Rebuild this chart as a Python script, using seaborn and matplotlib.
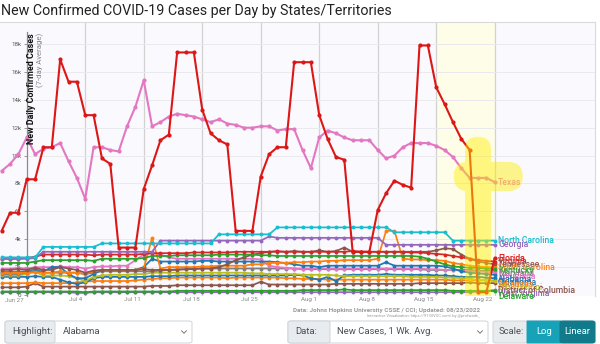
import matplotlib
matplotlib.use("Agg")
import numpy as np
import pandas as pd
import matplotlib.pyplot as plt
import matplotlib.transforms as mtransforms
from matplotlib.patches import FancyBboxPatch, PathPatch
from matplotlib.path import Path
from matplotlib.lines import Line2D
from matplotlib.ticker import FuncFormatter
import seaborn as sns

# ---------------- data (thousands of cases, 7-day average) ----------------
dates = pd.date_range("2022-06-24", "2022-08-22", freq="D")
tick_dates = pd.to_datetime(["2022-06-27", "2022-07-04", "2022-07-11", "2022-07-18",
                             "2022-07-25", "2022-08-01", "2022-08-08", "2022-08-15",
                             "2022-08-22"])
tick_labels = ["Jun 27", "Jul 4", "Jul 11", "Jul 18", "Jul 25", "Aug 1", "Aug 8",
               "Aug 15", "Aug 22"]
y_ticks = [0, 2, 4, 6, 8, 10, 12, 14, 16, 18]

texas = [8.9, 9.4, 10.1, 11.3, 10.1, 10.5, 10.6, 10.9, 9.6, 8.4,
         6.9, 10.6, 10.6, 10.4, 10.3, 12.1, 13.5, 15.4, 12.1, 12.4,
         12.8, 13.0, 12.9, 12.8, 12.6, 12.4, 12.6, 12.3, 12.2, 12.0,
         12.0, 12.1, 12.1, 11.8, 11.9, 11.9, 10.4, 9.1, 11.3, 11.8,
         11.6, 11.3, 11.1, 11.1, 11.1, 10.4, 9.8, 10.0, 10.6, 10.9,
         10.9, 10.9, 10.7, 10.4, 9.9, 9.1, 8.4, 8.4, 8.4, 8.1]
florida = [4.6, 5.9, 5.9, 8.3, 8.3, 10.6, 10.6, 16.9, 15.3, 15.3,
           12.9, 12.9, 9.8, 9.4, 3.4, 3.4, 3.4, 7.6, 9.3, 11.1,
           11.5, 17.4, 17.4, 17.4, 13.3, 11.6, 11.1, 10.8, 4.6, 4.6,
           4.6, 8.5, 10.1, 10.6, 10.6, 16.7, 16.7, 16.7, 12.9, 11.2,
           9.9, 9.7, 3.1, 3.1, 3.1, 6.1, 7.3, 8.2, 7.9, 7.7,
           17.9, 17.9, 14.9, 13.7, 12.4, 11.2, 10.4, 0.2, 0.2, 2.65]
north_carolina = [2.7, 2.7, 2.7, 2.7, 2.7, 3.45, 3.45, 3.45, 3.45, 3.45,
                  3.45, 3.45, 3.7, 3.7, 3.7, 3.7, 3.7, 3.7, 3.7, 3.7,
                  3.7, 3.7, 3.7, 3.7, 3.7, 3.7, 4.35, 4.35, 4.35, 4.35,
                  4.35, 4.35, 4.35, 4.85, 4.85, 4.85, 4.85, 4.85, 4.85, 4.85,
                  4.85, 4.85, 4.85, 4.85, 4.85, 4.85, 4.85, 4.5, 4.5, 4.5,
                  4.5, 4.5, 4.5, 4.5, 3.9, 3.9, 3.9, 3.9, 3.9, 3.9]
georgia = [2.6, 2.6, 2.6, 2.6, 2.65, 3.1, 3.1, 3.1, 3.1, 3.1,
           3.1, 3.1, 3.1, 3.1, 3.1, 3.1, 3.1, 3.1, 3.1, 3.9,
           3.9, 3.9, 3.9, 3.9, 3.9, 3.9, 3.9, 3.9, 3.9, 3.9,
           3.9, 3.9, 4.2, 4.1, 4.1, 4.1, 4.1, 4.1, 4.1, 4.1,
           4.1, 4.1, 4.1, 4.1, 4.1, 4.1, 3.6, 3.6, 3.6, 3.6,
           3.6, 3.6, 3.6, 3.6, 3.6, 3.6, 3.6, 3.6, 3.6, 3.6]
virginia = [2.6, 2.6, 2.6, 2.65, 2.75, 2.9, 2.9, 2.9, 2.9, 2.9,
            2.9, 2.85, 2.9, 2.9, 2.9, 2.9, 2.9, 2.95, 3.0, 3.0,
            3.0, 3.0, 3.0, 3.05, 3.05, 3.05, 3.05, 3.05, 3.1, 3.1,
            3.1, 3.1, 3.1, 3.15, 3.1, 3.1, 3.1, 3.1, 3.1, 3.1,
            3.1, 3.1, 3.15, 3.1, 3.1, 3.1, 3.1, 3.1, 3.1, 3.05,
            3.05, 3.0, 2.95, 2.9, 2.8, 2.7, 2.6, 2.5, 2.45, 2.4]
kentucky = [2.3, 2.3, 2.3, 2.3, 2.4, 2.5, 2.5, 2.5, 2.5, 2.5,
            2.5, 2.45, 2.6, 2.6, 2.6, 2.6, 2.6, 2.65, 2.8, 2.8,
            2.8, 2.85, 2.85, 2.85, 2.85, 2.85, 2.9, 2.9, 2.9, 2.9,
            2.9, 2.85, 2.85, 2.8, 2.8, 2.8, 2.8, 2.8, 2.8, 2.8,
            2.8, 2.8, 2.8, 2.8, 2.8, 2.8, 2.8, 2.8, 2.8, 2.8,
            2.75, 2.6, 2.4, 2.2, 2.05, 2.0, 1.95, 1.95, 1.9, 1.85]
tennessee = [1.8, 1.8, 1.85, 1.8, 1.95, 1.8, 1.8, 2.0, 1.9, 1.8,
             1.6, 1.75, 1.8, 1.8, 1.8, 1.8, 1.8, 1.85, 1.8, 1.8,
             1.8, 1.8, 1.85, 1.85, 1.9, 1.9, 2.0, 2.2, 2.5, 2.7,
             2.9, 3.0, 3.1, 3.1, 3.1, 3.15, 3.1, 3.1, 3.2, 3.1,
             3.15, 3.4, 3.1, 3.1, 3.1, 3.1, 3.1, 3.1, 3.1, 3.1,
             3.1, 3.1, 3.2, 3.35, 3.3, 2.9, 2.6, 2.4, 2.3, 2.2]
south_carolina = [1.6, 1.6, 1.6, 1.6, 1.65, 1.6, 1.6, 1.7, 1.6, 1.6,
                  1.5, 1.7, 1.8, 1.8, 1.8, 1.8, 1.8, 1.9, 4.1, 1.9,
                  2.0, 2.0, 2.0, 2.0, 2.05, 2.05, 2.1, 2.1, 2.1, 2.1,
                  2.2, 2.2, 2.3, 2.3, 2.3, 2.35, 2.35, 2.4, 2.4, 2.45,
                  2.45, 2.5, 2.5, 2.5, 2.5, 2.6, 4.6, 4.6, 2.6, 2.55,
                  2.55, 2.5, 2.5, 2.45, 2.3, 2.2, 2.1, 2.05, 2.0, 2.0]
alabama = [1.65, 1.65, 1.65, 1.7, 1.7, 1.7, 2.0, 2.0, 1.5, 1.2,
           1.2, 1.5, 1.8, 1.8, 1.8, 1.8, 1.8, 2.0, 2.6, 2.4,
           2.4, 2.4, 2.4, 2.4, 2.45, 2.45, 2.4, 2.4, 2.4, 2.4,
           2.4, 2.4, 2.4, 2.35, 2.3, 2.2, 2.1, 2.1, 2.0, 2.1,
           2.1, 2.1, 2.1, 2.1, 2.1, 2.1, 2.35, 2.1, 2.1, 2.1,
           2.1, 2.1, 2.1, 2.05, 1.9, 1.7, 1.6, 1.55, 1.5, 1.45]
louisiana = [1.9, 1.9, 1.95, 1.9, 2.0, 2.0, 2.0, 2.05, 2.0, 2.0,
             1.9, 2.0, 2.05, 2.05, 2.1, 2.1, 2.5, 2.9, 3.0, 2.9,
             2.7, 2.6, 2.6, 2.6, 2.6, 2.6, 2.6, 2.6, 2.6, 2.6,
             2.6, 2.55, 2.1, 2.0, 1.95, 1.9, 1.9, 1.9, 1.9, 1.9,
             1.9, 1.9, 1.9, 1.9, 1.9, 1.9, 1.9, 1.9, 1.9, 1.9,
             1.9, 1.85, 1.85, 1.8, 1.8, 1.75, 1.7, 1.7, 1.65, 1.6]
maryland = [1.5, 1.5, 1.5, 1.6, 1.9, 1.6, 1.6, 1.6, 1.6, 1.6,
            1.5, 1.6, 1.7, 1.7, 1.7, 1.7, 1.7, 1.7, 1.7, 1.75,
            1.8, 1.85, 1.85, 1.9, 1.9, 1.9, 1.9, 1.9, 1.9, 1.9,
            1.9, 1.9, 1.9, 1.9, 1.9, 1.9, 1.85, 1.85, 1.85, 1.85,
            1.85, 1.85, 1.85, 1.85, 1.85, 1.85, 1.85, 1.85, 1.85, 1.85,
            1.85, 1.8, 1.8, 1.8, 1.8, 1.8, 1.8, 1.75, 1.75, 1.75]
mississippi = [1.4, 1.4, 1.4, 1.5, 1.65, 1.4, 1.4, 1.4, 1.35, 1.2,
               1.0, 1.3, 1.4, 1.45, 1.45, 1.45, 1.5, 1.5, 1.6, 1.6,
               1.6, 1.6, 1.6, 1.6, 1.6, 1.6, 1.6, 1.6, 1.6, 1.6,
               1.55, 1.55, 1.5, 1.5, 1.5, 1.5, 1.45, 1.45, 1.45, 1.45,
               1.4, 1.35, 1.35, 1.35, 1.35, 1.35, 1.35, 1.35, 1.35, 1.3,
               1.3, 1.3, 1.3, 1.25, 1.25, 1.2, 1.15, 1.1, 1.05, 1.0]
oklahoma = [1.3, 1.3, 1.3, 1.3, 1.35, 1.3, 1.3, 1.1, 0.9, 0.8,
            0.9, 1.2, 1.3, 1.3, 1.3, 1.3, 1.3, 1.3, 1.35, 1.35,
            1.35, 1.4, 1.4, 1.4, 1.4, 1.4, 1.4, 1.4, 1.4, 1.4,
            1.4, 1.4, 1.4, 1.4, 1.4, 1.45, 1.4, 1.2, 1.1, 1.3,
            1.0, 1.4, 1.45, 1.45, 1.45, 1.45, 1.5, 1.45, 1.45, 1.45,
            1.45, 1.45, 1.4, 1.4, 1.35, 1.3, 1.3, 1.3, 1.25, 1.2]
arkansas = [0.85, 0.85, 0.85, 0.85, 0.9, 0.85, 0.85, 0.85, 0.85, 0.9,
            0.95, 1.0, 1.0, 1.0, 1.0, 1.0, 1.05, 1.1, 1.15, 1.2,
            1.2, 1.25, 1.25, 1.25, 1.25, 1.25, 1.25, 1.2, 1.25, 1.25,
            1.25, 1.25, 1.25, 1.25, 1.2, 1.2, 1.15, 1.15, 1.15, 1.1,
            1.1, 1.1, 1.1, 1.1, 1.1, 1.1, 1.1, 1.1, 1.1, 1.1,
            1.1, 1.1, 1.1, 1.1, 1.05, 1.05, 1.05, 1.05, 1.05, 1.05]
district_of_columbia = [0.55, 0.55, 0.55, 0.6, 0.85, 0.6, 0.6, 0.6, 0.6, 0.6,
                        0.6, 0.6, 0.6, 0.6, 0.6, 0.6, 0.6, 0.6, 0.65, 0.65,
                        0.65, 0.7, 0.7, 0.7, 0.7, 0.7, 0.7, 0.7, 0.7, 0.7,
                        0.7, 0.95, 0.75, 0.75, 0.75, 0.75, 0.75, 0.75, 0.75, 0.75,
                        0.8, 0.8, 0.8, 0.8, 0.8, 0.8, 0.8, 0.8, 0.8, 0.8,
                        0.85, 0.85, 0.85, 0.85, 0.85, 0.85, 0.9, 0.85, 0.85, 0.85]
delaware = [0.25, 0.25, 0.25, 0.25, 0.25, 0.25, 0.25, 0.25, 0.25, 0.25,
            0.2, 0.25, 0.25, 0.25, 0.25, 0.25, 0.25, 0.25, 0.25, 0.25,
            0.25, 0.3, 0.3, 0.3, 0.3, 0.3, 0.3, 0.3, 0.3, 0.3,
            0.3, 0.3, 0.3, 0.3, 0.3, 0.3, 0.35, 0.35, 0.35, 0.35,
            0.35, 0.4, 0.35, 0.35, 0.35, 0.35, 0.35, 0.35, 0.35, 0.35,
            0.35, 0.35, 0.35, 0.35, 0.3, 0.3, 0.3, 0.3, 0.3, 0.28]
west_virginia = [0.2, 0.2, 0.2, 0.2, 0.2, 0.2, 0.2, 0.2, 0.2, 0.15,
                 0.15, 0.2, 0.2, 0.2, 0.2, 0.2, 0.2, 0.2, 0.2, 0.2,
                 0.2, 0.2, 0.2, 0.2, 0.2, 0.2, 0.2, 0.2, 0.2, 0.2,
                 0.2, 0.2, 0.2, 0.2, 0.2, 0.2, 0.2, 0.2, 0.2, 0.2,
                 0.2, 0.2, 0.2, 0.2, 0.2, 0.2, 0.2, 0.2, 0.2, 0.2,
                 0.2, 0.2, 0.2, 0.2, 0.2, 0.2, 0.2, 0.25, 0.3, 0.35]

# drawing order: small series first, the two big ones last
states = ["West Virginia", "Delaware", "District of Columbia", "Arkansas", "Oklahoma",
          "Mississippi", "Maryland", "Louisiana", "Alabama", "South Carolina",
          "Tennessee", "Kentucky", "Virginia", "Georgia", "North Carolina",
          "Texas", "Florida"]
series = [west_virginia, delaware, district_of_columbia, arkansas, oklahoma,
          mississippi, maryland, louisiana, alabama, south_carolina,
          tennessee, kentucky, virginia, georgia, north_carolina,
          texas, florida]
colors = ["#9467bd", "#2ca02c", "#8c564b", "#ff7f0e", "#1f77b4",
          "#bcbd22", "#7f7f7f", "#e377c2", "#1f77b4", "#ff7f0e",
          "#8c564b", "#2ca02c", "#d62728", "#9467bd", "#17becf",
          "#e377c2", "#dd1616"]

day = np.asarray((dates - dates[0]).days)
tick_days = np.asarray((tick_dates - dates[0]).days)

df = pd.DataFrame({
    "day": np.tile(day, len(states)),
    "state": np.repeat(states, len(day)),
    "cases": np.concatenate([np.asarray(s, float) for s in series]),
})

# ---------------- figure ----------------
sns.set_theme(style="white")
plt.rcParams["font.family"] = ["Roboto", "DejaVu Sans"]

W, H = 600, 344
fig = plt.figure(figsize=(W / 100, H / 100), dpi=100)
fig.patch.set_facecolor("white")

ax_top_px, ax_bot_px, ax_right_px = 22, 296, 595
ax = fig.add_axes([0, (H - ax_bot_px) / H, ax_right_px / W, (ax_bot_px - ax_top_px) / H])
ax.set_facecolor("#f9f9fe")

px_per_k = 13.94
ymin = (295 - ax_bot_px) / px_per_k
ymax = (295 - ax_top_px) / px_per_k
ax.set_ylim(ymin, ymax)
ax.set_xlim(-0.2, 71.0)

# last-week tint
ax.axvspan(tick_days[-2], tick_days[-1], color="#fefde8", zorder=0.3, lw=0)

# grid
ax.set_xticks(tick_days[1:])
ax.set_xticklabels(tick_labels[1:])
ax.grid(axis="x", color="#d2d2d2", lw=0.9)
ax.hlines(y_ticks[1:], tick_days[0], 71.0, color="#e9e9ee", lw=0.7, zorder=1)

# y axis at Jun 27
ax.set_yticks(y_ticks)
ax.yaxis.set_major_formatter(FuncFormatter(lambda v, p: "0" if v == 0 else f"{int(v)}k"))
ax.spines["left"].set_position(("data", tick_days[0]))
ax.spines["left"].set_bounds(ymin, 18.9)
ax.spines["left"].set_color("#8a8a8a")
ax.spines["left"].set_linewidth(0.9)
ax.spines["bottom"].set_visible(False)
for s in ("top", "right"):
    ax.spines[s].set_color("#dadada")
    ax.spines[s].set_linewidth(0.8)
ax.tick_params(axis="y", length=2.5, width=0.6, color="#8a8a8a", labelsize=4.5,
               labelcolor="#555555", pad=1.2, left=True)
ax.tick_params(axis="x", length=0, labelsize=4.5, labelcolor="#8a8a8a", pad=1.0)
ax.set_xlabel("")
ax.set_ylabel("")

# Jun 27 label (tick at the axis)
ax.text(tick_days[0], ymin, tick_labels[0], ha="right", va="top", fontsize=4.5,
        color="#8a8a8a", clip_on=False,
        transform=ax.transData + mtransforms.ScaledTranslation(-2 / 72, -1.6 / 72, fig.dpi_scale_trans))
off = mtransforms.ScaledTranslation(-2 / 72, 0, fig.dpi_scale_trans)
for lbl in ax.get_xticklabels():
    lbl.set_ha("right")
    lbl.set_transform(lbl.get_transform() + off)

# lines
for name, col in zip(states, colors):
    big = name in ("Texas", "Florida")
    sns.lineplot(data=df[df.state == name], x="day", y="cases", color=col,
                 marker="o", markersize=3.0 if big else 2.8, markeredgewidth=0,
                 linewidth=1.5 if big else 1.25, ax=ax, legend=False, zorder=3)
ax.set_xlabel("")
ax.set_ylabel("")

# axis titles
ax.text(3.6, 18.8, "New Daily Confirmed Cases", rotation=90, ha="center", va="top",
        fontsize=6.4, fontweight="bold", color="#111111", zorder=6)
ax.text(4.55, 18.8, "(7-day Average)", rotation=90, ha="center", va="top",
        fontsize=5.6, color="#888888", zorder=6)

# end labels with simple collision avoidance
last = day[-1]
ends = sorted([(s[-1], n, c) for n, s, c in zip(states, series, colors)], reverse=True)
prev = None
for v, n, c in ends:
    y = v if prev is None or n == "Texas" else min(v, prev - 0.21)
    if n != "Texas":
        prev = y
    ax.text(last + 0.4, y, n, ha="left", va="center", fontsize=6.2, color=c,
            fontweight="medium", zorder=5, clip_on=False)

# yellow highlight (one union shape, drawn on top)
fig.canvas.draw()
def pill(x0, x1, y0, y1):
    X0, Y0 = ax.transData.transform((x0, y0))
    X1, Y1 = ax.transData.transform((x1, y1))
    w, h = X1 - X0, Y1 - Y0
    r = min(w, h) / 2
    return FancyBboxPatch((X0, Y0), w, h, boxstyle=f"round,pad=0,rounding_size={r}").get_path()

hl_day = 57
p1 = pill(hl_day - 1.55, hl_day + 1.55, ymin - 2.0, 11.35)
p2 = pill(54.1, 62.35, 7.45, 9.55)
union = Path.make_compound_path(p1, p2)
ax.add_artist(PathPatch(union, transform=mtransforms.IdentityTransform(),
                        facecolor="#ffee00", alpha=0.45, edgecolor="none", zorder=10))

# title
def fx(x):
    return x / W
def fy(y):
    return 1 - y / H

fig.text(fx(1), fy(11), "New Confirmed COVID-19 Cases per Day by States/Territories",
         ha="left", va="center", fontsize=10.3, color="#222222")

# source texts
fig.text(fx(480), fy(310.5), "Data: Johns Hopkins University CSSE / CCI; Updated: 08/23/2022",
         ha="right", va="center", fontsize=4.6, color="#9a9a9a", fontweight="bold")
fig.text(fx(480), fy(316.5), "Interactive Visualization: https://91-DIVOC.com/ by @profwade_",
         ha="right", va="center", fontsize=2.9, color="#9a9a9a")

# UI controls
def box(x0, x1, y0, y1, fc, ec="#ced4da", r=3):
    fig.patches.append(FancyBboxPatch((fx(x0), fy(y1)), fx(x1) - fx(x0), fy(y0) - fy(y1),
                                      boxstyle=f"round,pad=0,rounding_size={r / W}",
                                      transform=fig.transFigure, facecolor=fc,
                                      edgecolor=ec, lw=0.7))

def chevron(xc, yc):
    fig.lines.append(Line2D([fx(xc - 2.5), fx(xc), fx(xc + 2.5)], [fy(yc - 1.3), fy(yc + 1.3), fy(yc - 1.3)],
                            transform=fig.transFigure, color="#666666", lw=0.6))

uy0, uy1 = 321, 343
box(5, 192, uy0, uy1, "white")
box(5, 55, uy0, uy1, "#e9ecef")
fig.text(fx(12), fy(332), "Highlight:", ha="left", va="center", fontsize=6.8, color="#495057")
fig.text(fx(63), fy(332), "Alabama", ha="left", va="center", fontsize=6.8, color="#495057")
chevron(184, 332)

box(288, 488, uy0, uy1, "white")
box(288, 330, uy0, uy1, "#e9ecef")
fig.text(fx(295), fy(332), "Data:", ha="left", va="center", fontsize=6.8, color="#495057")
fig.text(fx(337), fy(332), "New Cases, 1 Wk. Avg.", ha="left", va="center", fontsize=6.8, color="#495057")
chevron(480, 332)

box(493, 595, uy0, uy1, "#e9ecef")
box(527, 561, uy0, uy1, "#17a2b8", ec="#17a2b8", r=0.5)
box(560, 595, uy0, uy1, "#117a8b", ec="#117a8b", r=3)
fig.text(fx(499), fy(332), "Scale:", ha="left", va="center", fontsize=6.8, color="#495057")
fig.text(fx(544), fy(332), "Log", ha="center", va="center", fontsize=6.8, color="white")
fig.text(fx(577.5), fy(332), "Linear", ha="center", va="center", fontsize=6.8, color="white")

fig.savefig("out.png", dpi=100, facecolor="white")
